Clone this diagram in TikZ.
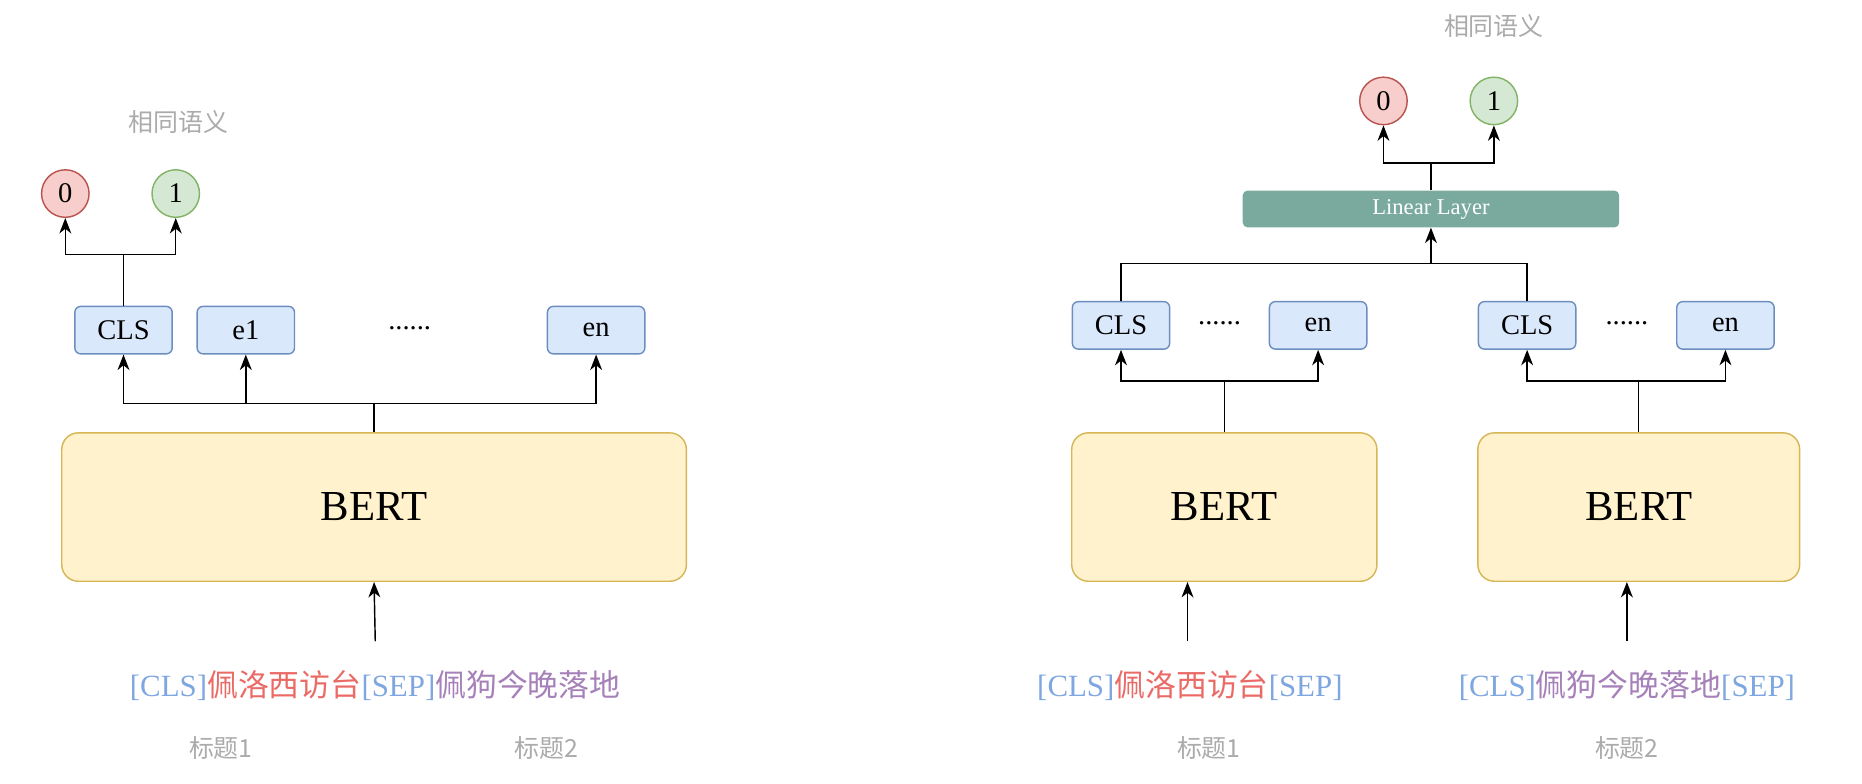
\documentclass[tikz,border=0pt]{standalone}
\usepackage{fontspec}
\setmainfont{Liberation Serif}
\newfontfamily\cjk{Noto Sans CJK SC}
\usetikzlibrary{arrows.meta,positioning}
\definecolor{tokfill}{HTML}{DAE8FC}
\definecolor{tokline}{HTML}{6C8EBF}
\definecolor{bertfill}{HTML}{FFF2CC}
\definecolor{bertline}{HTML}{D6B656}
\definecolor{zerofill}{HTML}{F8CECC}
\definecolor{zeroline}{HTML}{B85450}
\definecolor{onefill}{HTML}{D5E8D4}
\definecolor{oneline}{HTML}{82B366}
\definecolor{linfill}{HTML}{79AA9D}
\definecolor{clsblue}{HTML}{7EA6E0}
\definecolor{sentred}{HTML}{EA6B66}
\definecolor{sentpurple}{HTML}{A680B8}
\definecolor{labgray}{HTML}{ABABAB}
\tikzset{
  tok/.style={draw=tokline, fill=tokfill, line width=1.2pt, rounded corners=5pt,
    minimum width=82pt, minimum height=40pt, font=\fontsize{24}{28}\selectfont},
  bert/.style={draw=bertline, fill=bertfill, line width=1.2pt, rounded corners=14pt,
    minimum height=125pt, font=\fontsize{36}{40}\selectfont},
  zero/.style={circle, draw=zeroline, fill=zerofill, line width=1.2pt, minimum size=40pt,
    inner sep=0pt, font=\fontsize{24}{28}\selectfont},
  one/.style={zero, draw=oneline, fill=onefill},
  gray lab/.style={text=labgray, font=\fontsize{21}{24}\selectfont\cjk},
  sent/.style={font=\fontsize{26}{30}\selectfont, inner sep=0pt},
  link/.style={line width=1.2pt},
  arr/.style={link, -{Stealth[length=13pt,width=10pt,inset=4pt]}},
  dots/.style={font=\fontsize{24}{28}\selectfont}
}
\begin{document}
\begin{tikzpicture}[x=1pt,y=-1pt]
  \useasboundingbox (0,0) rectangle (1568,660);

  % left: one BERT
  \node[bert, minimum width=526pt] (bertA) at (315,427) {BERT};
  \node[tok] (clsA) at (104,278) {CLS};
  \node[tok] (eA) at (207,278) {e1};
  \node[dots] (dotsA) at (345,276) {......};
  \node[tok] (enA) at (502,278) {en};
  \node[zero] (zeroA) at (55,163) {0};
  \node[one] (oneA) at (148,163) {1};
  \node[gray lab] (semA) at (150,103) {相同语义};
  \node[sent] (inA) at (316,577) {\textcolor{clsblue}{[CLS]}\textcolor{sentred}{\cjk 佩洛西访台}\textcolor{clsblue}{[SEP]}\textcolor{sentpurple}{\cjk 佩狗今晚落地}};
  \node[gray lab] (titA1) at (186,630) {标题1};
  \node[gray lab] (titA2) at (460,630) {标题2};
  \coordinate (inAbot) at (316,540);

  \draw[arr] (inAbot) -- (bertA.south);
  \draw[link] (bertA.north) -- ++(0,-24) coordinate (jA);
  \draw[arr] (jA) -| (clsA.south);
  \draw[arr] (jA) -| (eA.south);
  \draw[arr] (jA) -| (enA.south);
  \draw[link] (clsA.north) -- ++(0,-43) coordinate (kA);
  \draw[arr] (kA) -| (zeroA.south);
  \draw[arr] (kA) -| (oneA.south);

  % right: two BERT
  \node[bert, minimum width=257pt] (bertB) at (1031,427) {BERT};
  \node[bert, minimum width=271pt] (bertC) at (1380,427) {BERT};
  \node[tok] (clsB) at (944,274) {CLS};
  \node[dots] (dotsB) at (1027,272) {......};
  \node[tok] (enB) at (1110,274) {en};
  \node[tok] (clsC) at (1286,274) {CLS};
  \node[dots] (dotsC) at (1370,272) {......};
  \node[tok] (enC) at (1453,274) {en};
  \node[fill=linfill, rounded corners=4pt, minimum width=317pt, minimum height=31pt,
    text=white, font=\fontsize{19}{22}\selectfont] (lin) at (1205,176) {Linear Layer};
  \node[zero] (zeroB) at (1165,85) {0};
  \node[one] (oneB) at (1258,85) {1};
  \node[gray lab] (semB) at (1258,22) {相同语义};
  \node[sent] (inB) at (1002,577) {\textcolor{clsblue}{[CLS]}\textcolor{sentred}{\cjk 佩洛西访台}\textcolor{clsblue}{[SEP]}};
  \node[sent] (inC) at (1370,577) {\textcolor{clsblue}{[CLS]}\textcolor{sentpurple}{\cjk 佩狗今晚落地}\textcolor{clsblue}{[SEP]}};
  \node[gray lab] (titB) at (1018,630) {标题1};
  \node[gray lab] (titC) at (1370,630) {标题2};
  \coordinate (inBbot) at (1000,540);
  \coordinate (inCbot) at (1370,540);

  \draw[arr] (inBbot) -- (inBbot |- bertB.south);
  \draw[arr] (inCbot) -- (inCbot |- bertC.south);
  \draw[link] (bertB.north) -- ++(0,-43) coordinate (jB);
  \draw[arr] (jB) -| (clsB.south);
  \draw[arr] (jB) -| (enB.south);
  \draw[link] (bertC.north) -- ++(0,-43) coordinate (jC);
  \draw[arr] (jC) -| (clsC.south);
  \draw[arr] (jC) -| (enC.south);
  \draw[link] (clsB.north) |- (1205,222) coordinate (mB) -| (clsC.north);
  \draw[arr] (mB) -- (lin.south);
  \draw[link] (lin.north) -- ++(0,-23) coordinate (kB);
  \draw[arr] (kB) -| (zeroB.south);
  \draw[arr] (kB) -| (oneB.south);
\end{tikzpicture}
\end{document}
